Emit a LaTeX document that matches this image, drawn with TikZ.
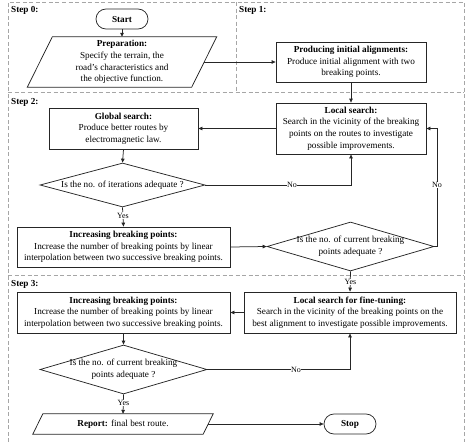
\documentclass[tikz,border=0pt]{standalone}
\usepackage{fontspec}
\setmainfont{Liberation Serif}
\usetikzlibrary{arrows.meta,shapes.geometric,calc}
\begin{document}
\begin{tikzpicture}[x=1pt,y=-1pt,
  every node/.style={font=\fontsize{9.2}{11.6}\selectfont, align=center, inner sep=0pt},
  ln/.style={line width=0.75pt, draw=black!85},
  arr/.style={ln, -{Triangle[length=4pt,width=3.5pt]}},
  procbox/.style={ln, rectangle, minimum width=#1},
  term/.style={ln, rectangle, rounded corners=10pt, minimum width=52pt, minimum height=20pt, font=\fontsize{9.2}{11.6}\selectfont\bfseries},
  diam/.style={ln, diamond, minimum width=#1},
  io/.style={rectangle, minimum width=#1},
  lab/.style={fill=white, font=\fontsize{8}{9}\selectfont, inner sep=0.5pt},
  steplab/.style={anchor=west, font=\fontsize{9.2}{11.6}\selectfont\bfseries},
  frame/.style={draw=black!35, line width=0.6pt, dash pattern=on 4pt off 2.5pt}
]
\useasboundingbox (0,0) rectangle (474,442);
% dashed frames
\draw[frame] (8,442) -- (8,2) -- (464,2) -- (464,442);
\draw[frame] (236,2) -- (236,92);
\draw[frame] (8,92) -- (464,92);
\draw[frame] (8,275) -- (464,275);
\node[steplab] (s0) at (11,10) {Step 0:};
\node[steplab] (s1) at (239,10) {Step 1:};
\node[steplab] (s2) at (11,102) {Step 2:};
\node[steplab] (s3) at (11,284) {Step 3:};

% nodes
\node[term] (start) at (122,19) {Start};
\node[io=164pt, minimum height=50pt] (prep) at (122,62) {\textbf{Preparation:}\\Specify the terrain, the\\road's characteristics and\\the objective function.};
\draw[ln] ($(prep.south west)+(-12.5,0)$) -- ($(prep.north west)+(12.5,0)$) -- ($(prep.north east)+(12.5,0)$) -- ($(prep.south east)+(-12.5,0)$) -- cycle;

\node[procbox=150pt, minimum height=40pt] (prod) at (351,62) {\textbf{Producing initial alignments:}\\Produce initial alignment with two\\breaking points.};
\node[procbox=150pt, minimum height=51pt] (local) at (351,128.5) {\textbf{Local search:}\\Search in the vicinity of the breaking\\points on the routes to investigate\\possible improvements.};
\node[procbox=149pt, minimum height=41pt] (global) at (123.5,128.5) {\textbf{Global search:}\\Produce better routes by\\electromagnetic law.};
\node[diam=165pt, minimum height=44pt] (d1) at (122.5,185) {};
\node (d1t) at (d1) {Is the no. of iterations adequate ?};
\node[procbox=213pt, minimum height=40pt] (inc2) at (123.5,247) {\textbf{Increasing breaking points:}\\Increase the number of breaking points by linear\\interpolation between two successive breaking points.};
\node[diam=167pt, minimum height=49pt] (d2) at (350.5,246.5) {};
\node (d2t) at (d2) {Is the no. of current breaking\\points adequate ?};
\node[procbox=212pt, minimum height=41pt] (fine) at (350,312.5) {\textbf{Local search for fine-tuning:}\\Search in the vicinity of the breaking points on the\\best alignment to investigate possible improvements.};
\node[procbox=213pt, minimum height=41pt] (inc3) at (123.5,312.5) {\textbf{Increasing breaking points:}\\Increase the number of breaking points by linear\\interpolation between two successive breaking points.};
\node[diam=167pt, minimum height=49pt] (d3) at (123.5,369.5) {};
\node (d3t) at (d3) {Is the no. of current breaking\\points adequate ?};
\node[io=170pt, minimum height=20pt] (rep) at (123,424) {\textbf{Report:} final best route.};
\draw[ln] ($(rep.south west)+(-5,0)$) -- ($(rep.north west)+(5,0)$) -- ($(rep.north east)+(5,0)$) -- ($(rep.south east)+(-5,0)$) -- cycle;
\node[term] (stop) at (350,424) {Stop};

% connectors
\draw[arr] (start.south) -- (prep.north);
\draw[arr] (prep.east) -- (prod.west);
\draw[arr] (prod.south) -- (local.north);
\draw[arr] (local.west) -- (global.east);
\draw[arr] (global.south) -- (d1.north);
\draw[arr] (d1.east) -| (local.south);
\node[lab] (no1) at (292,185) {No};
\draw[arr] (d1.south) -- (inc2.north);
\node[lab] (yes1) at (123,215.5) {Yes};
\draw[arr] (inc2.east) -- (d2.west);
\coordinate (c2) at ($(d2.east)+(3,0)$);
\draw[arr] (d2.east) -- (c2) |- (local.east);
\node[lab] (no2) at (437,185) {No};
\draw[arr] (d2.south) -- (fine.north);
\node[lab] (yes2) at (350.5,282) {Yes};
\draw[arr] (fine.west) -- (inc3.east);
\draw[arr] (inc3.south) -- (d3.north);
\draw[arr] (d3.east) -| (fine.south);
\node[lab] (no3) at (296,369.5) {No};
\draw[arr] (d3.south) -- (rep.north);
\node[lab] (yes3) at (123.5,403) {Yes};
\draw[arr] (rep.east) -- (stop.west);
\end{tikzpicture}
\end{document}
